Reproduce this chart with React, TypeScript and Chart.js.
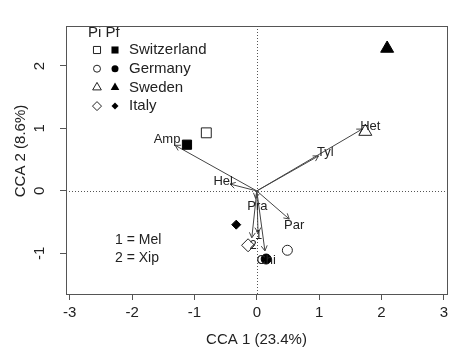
import React, { useEffect, useRef } from 'react';
import { Chart, registerables } from 'chart.js';

Chart.register(...registerables);

const FONT = "'Liberation Sans', Arial, Helvetica, sans-serif";

// axes
const xTicks = [-3, -2, -1, 0, 1, 2, 3];
const yTicks = [-1, 0, 1, 2];
const xTitle = 'CCA 1 (23.4%)';
const yTitle = 'CCA 2 (8.6%)';

// sites: Pi (open) and Pf (filled)
const countries = ['Switzerland', 'Germany', 'Sweden', 'Italy'];
const piX = [-0.81, 0.49, 1.74, -0.14];
const piY = [0.93, -0.95, 0.95, -0.87];
const pfX = [-1.12, 0.15, 2.09, -0.33];
const pfY = [0.74, -1.09, 2.28, -0.54];

// species vectors (arrow tips) and their label positions
const varNames = ['Amp', 'Het', 'Tyl', 'Hel', 'Par', 'Pra', '1', '2', 'Chi'];
const varX = [-1.31, 1.69, 0.99, -0.43, 0.52, -0.02, 0.02, -0.08, 0.13];
const varY = [0.73, 0.99, 0.56, 0.11, -0.45, -0.12, -0.67, -0.75, -0.96];
const labX = [-1.44, 1.82, 1.1, -0.54, 0.6, 0.01, 0.03, -0.06, 0.15];
const labY = [0.82, 1.04, 0.62, 0.15, -0.56, -0.25, -0.71, -0.87, -1.11];

const keyLines = ['1 = Mel', '2 = Xip'];

const SHAPES = ['rect', 'circle', 'triangle', 'rectRot'];
const PI_R = [7, 5, 7.5, 6.5];
const PF_R = [6.5, 5, 7.5, 4.5];

function drawShape(ctx: CanvasRenderingContext2D, shape: string, x: number, y: number, r: number, filled: boolean) {
  ctx.beginPath();
  if (shape === 'rect') {
    const s = r * Math.SQRT1_2;
    ctx.rect(x - s, y - s, 2 * s, 2 * s);
  } else if (shape === 'circle') {
    ctx.arc(x, y, r, 0, Math.PI * 2);
  } else if (shape === 'triangle') {
    for (let i = 0; i < 3; i++) {
      const a = (i * 2 * Math.PI) / 3;
      const px = x + Math.sin(a) * r;
      const py = y - Math.cos(a) * r;
      if (i === 0) ctx.moveTo(px, py);
      else ctx.lineTo(px, py);
    }
    ctx.closePath();
  } else {
    ctx.moveTo(x, y - r);
    ctx.lineTo(x + r, y);
    ctx.lineTo(x, y + r);
    ctx.lineTo(x - r, y);
    ctx.closePath();
  }
  if (filled) {
    ctx.fillStyle = '#000';
    ctx.fill();
  } else {
    ctx.strokeStyle = '#222';
    ctx.lineWidth = 1;
    ctx.stroke();
  }
}

const overlay = {
  id: 'overlay',
  beforeDatasetsDraw(chart: any) {
    const { ctx, chartArea: a, scales } = chart;
    const xs = scales.x;
    const ys = scales.y;
    ctx.save();
    // dotted zero lines
    ctx.strokeStyle = '#555';
    ctx.lineWidth = 1;
    ctx.setLineDash([1, 2]);
    const x0 = Math.round(xs.getPixelForValue(0)) + 0.5;
    const y0 = Math.round(ys.getPixelForValue(0)) + 0.5;
    ctx.beginPath();
    ctx.moveTo(x0, a.top);
    ctx.lineTo(x0, a.bottom);
    ctx.moveTo(a.left, y0);
    ctx.lineTo(a.right, y0);
    ctx.stroke();
    ctx.setLineDash([]);
    // arrows
    ctx.strokeStyle = '#444';
    const ox = xs.getPixelForValue(0);
    const oy = ys.getPixelForValue(0);
    for (let i = 0; i < varNames.length; i++) {
      const tx = xs.getPixelForValue(varX[i]);
      const ty = ys.getPixelForValue(varY[i]);
      const ang = Math.atan2(ty - oy, tx - ox);
      const hl = 6;
      ctx.beginPath();
      ctx.moveTo(ox, oy);
      ctx.lineTo(tx, ty);
      ctx.moveTo(tx - hl * Math.cos(ang - Math.PI / 6), ty - hl * Math.sin(ang - Math.PI / 6));
      ctx.lineTo(tx, ty);
      ctx.lineTo(tx - hl * Math.cos(ang + Math.PI / 6), ty - hl * Math.sin(ang + Math.PI / 6));
      ctx.stroke();
    }
    ctx.restore();
  },
  afterDatasetsDraw(chart: any) {
    const { ctx, chartArea: a, scales } = chart;
    const xs = scales.x;
    const ys = scales.y;
    ctx.save();
    // arrow labels
    ctx.fillStyle = '#222';
    ctx.font = `13px ${FONT}`;
    ctx.textAlign = 'center';
    ctx.textBaseline = 'middle';
    for (let i = 0; i < varNames.length; i++) {
      ctx.fillText(varNames[i], xs.getPixelForValue(labX[i]), ys.getPixelForValue(labY[i]));
    }
    // key for 1 / 2
    ctx.font = `14px ${FONT}`;
    ctx.textAlign = 'left';
    keyLines.forEach((t, i) => ctx.fillText(t, a.left + 49, a.top + 214 + i * 18));
    // legend
    ctx.font = `15px ${FONT}`;
    ctx.fillText('Pi Pf', a.left + 22, a.top + 7);
    countries.forEach((c, i) => {
      const y = a.top + 24 + i * 18.7;
      drawShape(ctx, SHAPES[i], a.left + 31, y, [5, 3.5, 5, 4.5][i], false);
      drawShape(ctx, SHAPES[i], a.left + 49, y, [5, 3.5, 5, 3.5][i], true);
      ctx.fillStyle = '#222';
      ctx.fillText(c, a.left + 63, y);
    });
    // frame
    ctx.strokeStyle = '#555';
    ctx.lineWidth = 1;
    ctx.strokeRect(Math.round(a.left) + 0.5, Math.round(a.top) + 0.5, Math.round(a.right - a.left), Math.round(a.bottom - a.top));
    // y title
    ctx.translate(21, 151);
    ctx.rotate(-Math.PI / 2);
    ctx.textAlign = 'center';
    ctx.font = `15px ${FONT}`;
    ctx.fillText(yTitle, 0, 0);
    ctx.restore();
  },
};

export default function App() {
  const ref = useRef<HTMLCanvasElement | null>(null);
  useEffect(() => {
    if (!ref.current) return;
    const mk = (xArr: number[], yArr: number[], filled: boolean, radii: number[]) => ({
      data: xArr.map((x, i) => ({ x, y: yArr[i] })),
      pointStyle: SHAPES as any,
      pointRadius: radii,
      pointBackgroundColor: filled ? '#000' : 'rgba(0,0,0,0)',
      pointBorderColor: filled ? '#000' : '#222',
      pointBorderWidth: 1,
      showLine: false,
    });
    const chart = new Chart(ref.current, {
      type: 'scatter',
      data: {
        datasets: [mk(piX, piY, false, PI_R), mk(pfX, pfY, true, PF_R)] as any,
      },
      options: {
        animation: false,
        responsive: false,
        devicePixelRatio: 1,
        layout: { padding: { top: 26, right: 27, left: 0, bottom: 0 } },
        plugins: { legend: { display: false }, tooltip: { enabled: false } },
        scales: {
          x: {
            type: 'linear',
            min: -3.06,
            max: 3.05,
            afterBuildTicks: (s: any) => {
              s.ticks = xTicks.map((v) => ({ value: v }));
            },
            afterFit: (s: any) => {
              s.height = 67;
            },
            grid: { drawOnChartArea: false, drawTicks: true, tickLength: 6, color: '#555' },
            border: { display: false },
            ticks: { font: { family: FONT, size: 15 }, color: '#222', padding: 4, maxRotation: 0, autoSkip: false },
            title: { display: true, text: xTitle, font: { family: FONT, size: 15 }, color: '#222', padding: { top: 0, bottom: 12 } },
          },
          y: {
            type: 'linear',
            min: -1.65,
            max: 2.64,
            afterBuildTicks: (s: any) => {
              s.ticks = yTicks.map((v) => ({ value: v }));
            },
            afterFit: (s: any) => {
              s.width = 66;
            },
            grid: { drawOnChartArea: false, drawTicks: true, tickLength: 6, color: '#555' },
            border: { display: false },
            ticks: {
              font: { family: FONT, size: 15 },
              color: '#222',
              padding: 13,
              minRotation: 90,
              maxRotation: 90,
              crossAlign: 'center',
              autoSkip: false,
            },
          },
        },
      },
      plugins: [overlay],
    });
    return () => chart.destroy();
  }, []);
  return (
    <div style={{ position: 'absolute', left: 0, top: 0, width: 474, height: 361, background: '#fff' }}>
      <canvas ref={ref} width={474} height={361} style={{ width: 474, height: 361 }} />
    </div>
  );
}
